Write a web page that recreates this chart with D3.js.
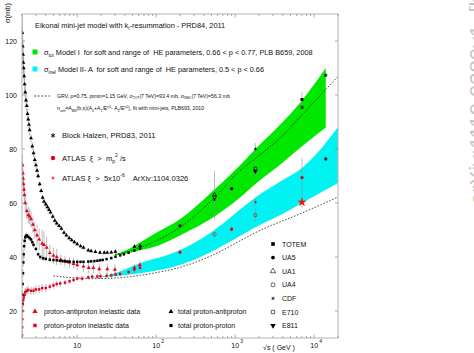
<!DOCTYPE html>
<html>
<head>
<meta charset="utf-8">
<title>Eikonal mini-jet model</title>
<script src="https://cdnjs.cloudflare.com/ajax/libs/d3/7.8.5/d3.min.js"></script>
<style>
    body { margin: 0; background: #fff; }
    svg text { font-family: "Liberation Sans", Arial, sans-serif; fill: #111; white-space: pre; }
</style>
</head>
<body>
<svg id="chart" width="474" height="353"></svg>
<script>
// ---- data ----
// model bands: sqrt(s) in GeV, sigma in mb
const totBandS  = [30, 45, 63, 100, 200, 546, 1150, 1800, 4000, 7000, 14000];
const totBandLo = [40.5, 41.5, 42.5, 44, 48, 55, 62, 67, 75, 81, 88];
const totBandHi = [41, 43, 45.5, 49, 54, 65, 74, 80, 90, 98, 110];

const inelBandS  = [12, 20, 30, 63, 100, 164, 546, 900, 1800, 4000, 7000, 25000];
const inelBandLo = [32.3, 32.5, 33, 34, 35, 36.3, 42.5, 46, 51, 56, 60, 69];
const inelBandHi = [32.4, 32.8, 34, 37.8, 39.5, 41.5, 50, 55, 62, 68.5, 73, 92];

// GRV dashed curves
const grvTotS = [30, 50, 100, 200, 546, 1150, 1800, 4000, 7000, 14000, 25000];
const grvTotV = [41, 42.5, 46, 51, 62, 72, 76.5, 85, 92.6, 102, 110];
const grvInelS = [5, 10, 15, 30, 63, 100, 164, 546, 1150, 1800, 7000, 25000];
const grvInelV = [33, 32.2, 32, 32.2, 33.2, 34.2, 35.5, 41, 46, 49, 56.3, 63.5];

// total proton-antiproton (black triangles)
const pbarTotS = [2.02,2.04,2.06,2.08,2.1,2.13,2.16,2.2,2.25,2.3,2.35,2.4,2.45,2.5,2.6,2.7,2.8,2.9,3.0,3.1,3.2,3.35,3.5,3.65,3.8,4.0,4.2,4.4,4.6,4.9,5.2,5.5,5.9,6.3,6.8,7.3,7.9,8.5,9.2,10,11,12,13.8,15,17,19.4,22,24,27,30.4,53,62.7];
const pbarTotV = [123,118,115,112,110,107,104,101,98,96,93,91,89,87,84,81,78.5,76,74,72,70,67,64.5,62,60.5,59.5,58.5,57.5,56.5,55,53.5,52.5,51.5,50.5,49,48,47,46.3,45.5,44.8,44,43.5,42.5,42.2,41.9,41.6,41.6,41.6,41.7,42,43.9,44.1];
const pbarTotE = [6,5,5,4,4,3,3,3,2.5,2.5,2,2,2,2,1.5,1.5,1.5,1.5,1.2,1.2,1.2,1,1,1,1,1,1,1,1,1,1,1,0.8,0.8,0.8,0.8,0.8,0.8,0.8,0.8,0.8,0.8,0.6,0.6,0.6,0.6,0.6,0.6,0.6,0.6,0.8,0.8];

// total proton-proton (black squares)
const ppTotS = [2.0,2.02,2.04,2.06,2.08,2.1,2.13,2.16,2.2,2.25,2.3,2.4,2.5,2.6,2.7,2.8,3.0,3.2,3.4,3.7,4.0,4.5,5.0,5.5,6.0,6.5,7.0,7.5,8.0,9.0,10,11,12,13.8,15,16.5,18,19.5,21,23.5,27,30.5,35,39,44.7,52.8,62.5];
const ppTotV = [23,26,30,34,38,41,44,46,47.3,47.8,48,47.5,47,46.5,45.5,44.5,43,41,40,39.5,39.3,39,38.9,38.8,38.6,38.5,38.4,38.3,38.3,38.2,38.2,38.2,38.2,38.3,38.4,38.5,38.6,38.8,38.9,39.2,39.6,40.1,40.6,41,41.6,42.4,43.2];
const ppTotE = [1.5,1.5,1.5,1.5,1.5,1.5,1.5,1.5,1,1,1,1,1,1,1,1,1,1,1,1,0.8,0.8,0.8,0.8,0.8,0.8,0.8,0.8,0.8,0.8,0.6,0.6,0.6,0.6,0.6,0.6,0.6,0.6,0.6,0.6,0.6,0.6,0.6,0.6,0.6,0.6,0.6];

// proton-antiproton inelastic (red triangles)
const pbarInelS = [2.03,2.05,2.07,2.09,2.12,2.15,2.2,2.3,2.4,2.5,2.6,2.75,2.9,3.1,3.3,3.6,3.8,4.1,4.5,5.0,5.5,6.2,7.0,8.0,9.0,10,12,14,16,19,24,30,53,62];
const pbarInelV = [74,71,69,67,65,63,60,57,55.5,55,54,52,50,48,46.5,45,44.5,43.5,41.5,40.5,40,39,38.5,38,37.5,37,36.5,36,36,35.5,35.5,35.3,36,37];
const pbarInelE = [4,4,3,3,3,3,3,3,3,3,3,3,3,4,4,5,5,4,3,3,3,2,2,2,2,2,2,2,2,2,2,2,1.5,1.5];

// proton-proton inelastic (red squares)
const ppInelS = [2.0,2.01,2.02,2.03,2.05,2.07,2.1,2.15,2.2,2.3,2.4,2.6,2.8,3.0,3.3,3.6,4.0,4.5,5.0,5.5,6.1,7,8,9,10,11.5,13.8,15.5,18,19.7,23.5,27,30.6,35,44.7,52.8,62.5];
const ppInelV = [11,14,17,20,22.5,24,25,26,27,27.5,27.8,27.5,27.5,28,28,28.5,28.5,29,29.5,30,30.2,30.5,31,31.5,32,32,32.5,32.7,32.8,32.9,33,33.2,33.5,33.7,34.4,35.3,36];
const ppInelE = [2,2,2,2,1.5,1.5,1.5,1.5,1.5,1.5,1.5,1.5,1.5,1.5,1.5,1.5,1.5,1.2,1.2,1.2,1.2,1,1,1,1,1,1,1,1,1,1,1,1,1,1,1,1];

// collider points
const colS    = [200, 200, 546, 546, 546, 546, 900, 900, 1800, 1800, 1800, 1800, 1800, 7000, 7000, 7000, 7000, 14000, 14000];
const colV    = [51.5, 41.8, 62.2, 61.3, 63, 48.4, 65.3, 50.3, 80.0, 72.8, 71.7, 60.3, 55.5, 98.3, 95.4, 69.4, 60.3, 107.3, 76.3];
const colE    = [1.2, 1.0, 1.5, 1.0, 9, 1.0, 1.7, 1.5, 2.2, 3.1, 2.0, 1.4, 2.5, 2.8, 1.1, 7.3, 2.1, 1.2, 1.0];
const colMark = ['UA5','UA5','UA4','CDF','UA1','UA4','UA5','UA5','CDF','E710','E811','CDF','E710','TOTEM','BH','ATLAS1','ATLAS2','BH','BH'];
const colRed  = [0, 1, 0, 0, 0, 1, 0, 1, 0, 0, 0, 1, 1, 0, 0, 1, 1, 0, 0];

// tick labels and legend entries
const yTicks = [20, 40, 60, 80, 100, 120];
const xTicks = [10, 100, 1000, 10000];
const xTickExp = ['', '2', '3', '4'];
const expLegend = ['TOTEM', 'UA5', 'UA1', 'UA4', 'CDF', 'E710', 'E811'];

// ---- setup ----
const svg = d3.select('#chart');
const x = d3.scaleLog().domain([2, 20000]).range([22, 338]);
const y = d3.scaleLinear().domain([10, 130]).range([338, 14]);

svg.append('defs').append('clipPath').attr('id', 'plotClip')
    .append('rect').attr('x', 22).attr('y', 14).attr('width', 316).attr('height', 324);
const plot = svg.append('g').attr('clip-path', 'url(#plotClip)');

const GREEN = '#00e800', CYAN = '#00f2f2', RED = '#e8001c';

// bands
function bandPath(S, lo, hi) {
    return d3.area()
        .x((d, i) => x(S[i]))
        .y0((d, i) => y(lo[i]))
        .y1((d, i) => y(hi[i]))
        .curve(d3.curveMonotoneX)(S);
}
plot.append('path').attr('d', bandPath(totBandS, totBandLo, totBandHi)).attr('fill', GREEN);
plot.append('path').attr('d', bandPath(inelBandS, inelBandLo, inelBandHi)).attr('fill', CYAN);

// dashed GRV curves
function curvePath(S, V) {
    return d3.line().x((d, i) => x(S[i])).y((d, i) => y(V[i])).curve(d3.curveMonotoneX)(S);
}
[[grvTotS, grvTotV], [grvInelS, grvInelV]].forEach(([S, V]) => {
    plot.append('path').attr('d', curvePath(S, V))
        .attr('fill', 'none').attr('stroke', '#222').attr('stroke-width', 0.8)
        .attr('stroke-dasharray', '1.6,1.6');
});

// marker shapes
function asterisk(r) {
    let p = '';
    for (let k = 0; k < 3; k++) {
        const a = Math.PI / 2 + k * Math.PI / 3;
        p += `M${r * Math.cos(a)},${-r * Math.sin(a)}L${-r * Math.cos(a)},${r * Math.sin(a)}`;
    }
    return p;
}
function marker(g, px, py, kind, color, s) {
    s = s || 1;
    const sym = (type, size) => d3.symbol().type(type).size(size * s * s)();
    let m;
    switch (kind) {
        case 'tri':    m = g.append('path').attr('d', sym(d3.symbolTriangle, 7)).attr('fill', color); break;
        case 'sq':     m = g.append('path').attr('d', sym(d3.symbolSquare, 6)).attr('fill', color); break;
        case 'TOTEM':  m = g.append('path').attr('d', sym(d3.symbolSquare, 9)).attr('fill', color); break;
        case 'UA5':    m = g.append('path').attr('d', sym(d3.symbolCircle, 8)).attr('fill', color); break;
        case 'ATLAS1': m = g.append('path').attr('d', sym(d3.symbolCircle, 9)).attr('fill', color); break;
        case 'UA1':    m = g.append('path').attr('d', sym(d3.symbolTriangle, 9)).attr('fill', 'none').attr('stroke', color).attr('stroke-width', 0.6); break;
        case 'UA4':    m = g.append('path').attr('d', sym(d3.symbolCircle, 9)).attr('fill', 'none').attr('stroke', color).attr('stroke-width', 0.6); break;
        case 'E710':   m = g.append('path').attr('d', sym(d3.symbolSquare, 8)).attr('fill', 'none').attr('stroke', color).attr('stroke-width', 0.6); break;
        case 'E811':   m = g.append('path').attr('d', sym(d3.symbolTriangle, 9)).attr('fill', color); break;
        case 'CDF':    m = g.append('path').attr('d', asterisk(1.4 * s)).attr('stroke', color).attr('stroke-width', 0.7); break;
        case 'BH':     m = g.append('path').attr('d', asterisk(1.8 * s)).attr('stroke', color).attr('stroke-width', 0.9); break;
        case 'ATLAS2': m = g.append('path').attr('d', d3.symbol().type(d3.symbolStar).size(14 * s * s)()).attr('fill', color); break;
    }
    const rot = kind === 'E811' ? ' rotate(180)' : '';
    m.attr('transform', `translate(${px},${py})${rot}`);
    return m;
}

// scattered data with gray error bars
const errG = plot.append('g');
const ptG = plot.append('g');
function drawSeries(S, V, E, kind, color) {
    S.forEach((s, i) => {
        errG.append('line')
            .attr('x1', x(s)).attr('x2', x(s))
            .attr('y1', y(V[i] - E[i])).attr('y2', y(V[i] + E[i]))
            .attr('stroke', '#8f8f8f').attr('stroke-width', 0.6);
        marker(ptG, x(s), y(V[i]), kind, color);
    });
}
drawSeries(ppInelS, ppInelV, ppInelE, 'sq', RED);
drawSeries(pbarInelS, pbarInelV, pbarInelE, 'tri', RED);
drawSeries(ppTotS, ppTotV, ppTotE, 'sq', '#000');
drawSeries(pbarTotS, pbarTotV, pbarTotE, 'tri', '#000');
colS.forEach((s, i) => {
    errG.append('line')
        .attr('x1', x(s)).attr('x2', x(s))
        .attr('y1', y(colV[i] - colE[i])).attr('y2', y(colV[i] + colE[i]))
        .attr('stroke', '#8f8f8f').attr('stroke-width', 0.6);
    const c = colRed[i] ? (colMark[i] === 'ATLAS2' ? '#ff1010' : '#c0102a') : '#000';
    marker(ptG, x(s), y(colV[i]), colMark[i], c, colMark[i] === 'ATLAS2' ? 1.4 : 1);
});

// ---- frame and axes ----
svg.append('rect').attr('x', 22).attr('y', 14).attr('width', 316).attr('height', 324)
    .attr('fill', 'none').attr('stroke', '#b4b4b4').attr('stroke-width', 1);
const tickG = svg.append('g').attr('stroke', '#777').attr('stroke-width', 0.6);
yTicks.forEach(v => {
    tickG.append('line').attr('x1', 22).attr('x2', 25).attr('y1', y(v)).attr('y2', y(v));
    tickG.append('line').attr('x1', 335).attr('x2', 338).attr('y1', y(v)).attr('y2', y(v));
    svg.append('text').attr('x', 17).attr('y', y(v) + 2.5).attr('text-anchor', 'end')
        .attr('font-size', 7).text(v);
});
x.ticks().forEach(t => {
    const major = xTicks.includes(t);
    const len = major ? 3.5 : 2;
    tickG.append('line').attr('x1', x(t)).attr('x2', x(t)).attr('y1', 338).attr('y2', 338 - len);
    tickG.append('line').attr('x1', x(t)).attr('x2', x(t)).attr('y1', 14).attr('y2', 14 + len);
});
xTicks.forEach((t, i) => {
    svg.append('text').attr('x', x(t)).attr('y', 348).attr('text-anchor', 'middle')
        .attr('font-size', 7).text('10');
    if (xTickExp[i]) {
        svg.append('text').attr('x', x(t) + 5).attr('y', 342.5)
            .attr('font-size', 5).text(xTickExp[i]);
    }
});
svg.append('text').attr('x', 279).attr('y', 350).attr('text-anchor', 'middle')
    .attr('font-size', 7).text('\u221As ( GeV )');
svg.append('text').attr('transform', 'translate(9.5,13) rotate(-90)').attr('text-anchor', 'middle')
    .attr('font-size', 7.5).text('\u03c3(mb)');

// ---- texts with sub/superscripts ----
function rich(px, py, parts, fs) {
    const t = svg.append('text').attr('x', px).attr('y', py).attr('font-size', fs);
    let shift = 0;
    parts.forEach(([str, k]) => {
        const target = k === 'sub' ? fs * 0.3 : k === 'sup' ? -fs * 0.4 : 0;
        t.append('tspan').attr('dy', target - shift).attr('font-size', k ? fs * 0.65 : fs).text(str);
        shift = target;
    });
    return t;
}

rich(35, 27.5, [['Eikonal mini-jet model with k'], ['t', 'sub'], ['-resummation - PRD84, 2011']], 7.4);

svg.append('rect').attr('x', 32.5).attr('y', 49.5).attr('width', 5).attr('height', 5).attr('fill', GREEN);
rich(44, 54.5, [['\u03c3'], ['tot', 'sub'], [' Model I  for soft and range of  HE parameters, 0.66 < p < 0.77, PLB B659, 2008']], 7.3);
svg.append('rect').attr('x', 32.5).attr('y', 66.5).attr('width', 5).attr('height', 5).attr('fill', CYAN);
rich(44, 71.5, [['\u03c3'], ['inel', 'sub'], [' Model II- A  for soft and range of  HE parameters, 0.5 < p < 0.66']], 7.3);

svg.append('line').attr('x1', 34).attr('x2', 50).attr('y1', 96).attr('y2', 96)
    .attr('stroke', '#222').attr('stroke-width', 0.8).attr('stroke-dasharray', '2,1.6');
rich(57, 97.5, [['GRV, p=0.75, ptmin=1.15 GeV, \u03c3'], ['TOT', 'sub'], ['(7 TeV)=93.4 mb, \u03c3'], ['INEL', 'sub'], ['(7 TeV)=56.3 mb']], 5.2);
rich(57, 110, [['n'], ['soft', 'sub'], ['=A'], ['BN', 'sub'], ['(b,s)(A'], ['0', 'sub'], ['+A'], ['1', 'sub'], ['/E'], ['\u03b71', 'sup'], ['- A'], ['2', 'sub'], ['/E'], ['\u03b72', 'sup'], ['), fit with mini-jets, PLB693, 2010']], 5.2);

marker(svg, 53, 135.5, 'BH', '#000', 1.2);
rich(62, 138, [['Block Halzen, PRD83, 2011']], 7.6);
marker(svg, 53, 158, 'ATLAS1', RED, 1.3);
rich(62, 160.5, [['ATLAS  \u03be  >  m'], ['p', 'sub'], ['2', 'sup'], [' /s']], 7.6);
marker(svg, 53, 178, 'CDF', RED, 1.1);
rich(62, 180.5, [['ATLAS \u03be  >  5x10'], ['-6', 'sup'], ['    ArXiv:1104.0326']], 7.6);

// bottom legend
marker(svg, 35, 311.5, 'tri', RED, 1.3);
rich(44, 314, [['proton-antiproton inelastic data']], 7);
marker(svg, 35, 325.5, 'sq', RED, 1.4);
rich(44, 328, [['proton-proton inelastic data']], 7);
marker(svg, 171, 311.5, 'tri', '#000', 1.2);
rich(178, 314, [['total proton-antiproton']], 7);
marker(svg, 171, 325.5, 'sq', '#000', 1.3);
rich(178, 328, [['total proton-proton']], 7);

// experiments legend
expLegend.forEach((name, i) => {
    const py = 244 + i * 13.6;
    marker(svg, 273, py, name, '#000', 1.2);
    rich(282, py + 2.5, [[name]], 7);
});

// arXiv side stamp, cut off at the right edge as in the scan
svg.append('text').attr('transform', 'translate(485,205) rotate(-90)')
    .attr('font-size', 22).style('fill', '#c6c6c6')
    .text('arXiv:1110.0380v1  [hep-ph]  3 Oct 2011');
</script>
</body>
</html>
